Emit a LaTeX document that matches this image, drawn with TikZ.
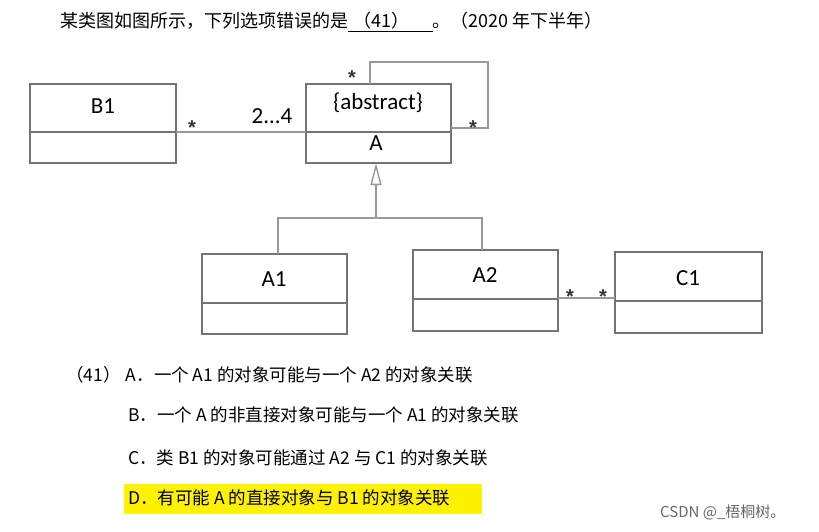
\documentclass[tikz,border=0pt]{standalone}
\usepackage{fontspec}
\setmainfont{Liberation Sans}
\newfontfamily\cjk{Noto Sans CJK SC}
\newfontfamily\uml{Carlito}
\usetikzlibrary{arrows.meta}
\begin{document}
\begin{tikzpicture}[x=1pt,y=-1pt,
  cls/.style={draw=gray!90!black,line width=1.3pt},
  ln/.style={draw=gray!80,line width=1.4pt},
  ulab/.style={font=\uml\fontsize{23}{23}\selectfont},
  star/.style={font=\fontsize{20}{20}\selectfont\bfseries,text=black!80,yshift=-5pt},
  txt/.style={anchor=west,font=\cjk\fontsize{17.5}{20}\selectfont,inner sep=0pt}]
\useasboundingbox (0,0) rectangle (819,531);
% classes
\draw[cls] (30,84) rectangle (176,163); \draw[cls] (30,132)--(176,132);
\node[ulab] (b1) at (103,106) {B1};
\draw[cls] (306,84) rectangle (451,163); \draw[cls] (306,132)--(451,132);
\node[ulab] (abs) at (378,103) {\{abstract\}};
\node[ulab] (a) at (376,143) {A};
\draw[cls] (202,254) rectangle (347,334); \draw[cls] (202,303)--(347,303);
\node[ulab] (a1) at (274,279) {A1};
\draw[cls] (413,250) rectangle (558,331); \draw[cls] (413,299)--(558,299);
\node[ulab] (a2) at (485,275) {A2};
\draw[cls] (615,252) rectangle (762,333); \draw[cls] (615,301)--(762,301);
\node[ulab] (c1) at (688,278) {C1};
\coordinate (l1) at (176,132); \coordinate (l2) at (306,132);
\draw[ln] (l1)--(l2);
\node[star] at (192,123) {*};
\node[ulab] at (272,116) {2...4};
% self loop
\coordinate (s1) at (370,84); \coordinate (s2) at (451,128);
\draw[ln] (s1)--(370,62)--(488,62)--(488,128)--(s2);
\node[star] at (352,73) {*};
\node[star] at (473,123) {*};
% generalization
\coordinate (g0) at (376,163);
\draw[ln,-{Triangle[open,length=22pt,width=11pt,fill=white]}] (376,218)--(g0);
\draw[ln] (278,254)--(278,218)--(482,218)--(482,250);
% A2-C1
\coordinate (c2) at (558,298); \coordinate (c3) at (615,298);
\draw[ln] (c2)--(c3);
\node[star] at (570,292) {*};
\node[star] at (603,292) {*};
% text
\node[txt,font=\cjk\fontsize{18}{20}\selectfont] (t) at (60,22) {某类图如图所示，下列选项错误的是\underline{\hspace{0.3em}（41）\hspace{1.3em}}。（2020 年下半年）};
\fill[yellow] (124,484) rectangle (482,514);
\node[txt] (o1) at (66,375) {（41）\hspace{0.3em}A．一个 A1 的对象可能与一个 A2 的对象关联};
\node[txt] (o2) at (128,415) {B．一个 A 的非直接对象可能与一个 A1 的对象关联};
\node[txt] (o3) at (128,458) {C．类 B1 的对象可能通过 A2 与 C1 的对象关联};
\node[txt] (o4) at (128,498) {D．有可能 A 的直接对象与 B1 的对象关联};
\node[txt,text=gray!80!black,font=\cjk\fontsize{15}{16}\selectfont] (w) at (660,512) {CSDN @\_梧桐树。};
\end{tikzpicture}
\end{document}
